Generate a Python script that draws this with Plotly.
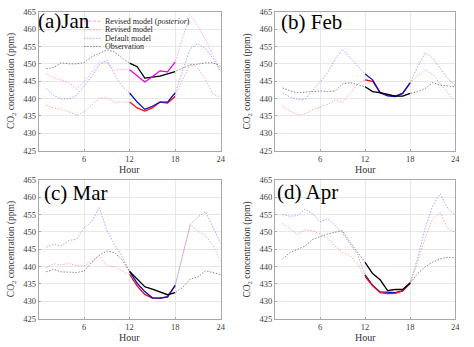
import plotly.graph_objects as go

# ---------------- data ----------------
hours = list(range(1, 25))
panel_labels = ["(a)Jan", "(b) Feb", "(c) Mar", "(d) Apr"]
x_ticks = [6, 12, 18, 24]
y_ticks = [425, 430, 435, 440, 445, 450, 455, 460, 465]

obs_jan = [448.6, 449.0, 450.3, 450.0, 450.0, 450.4, 452.0, 453.0, 454.0, 453.5, 451.7, 450.2,
           449.2, 445.9, 446.1, 446.5, 447.1, 447.8, 448.8, 449.7, 449.9, 450.3, 450.3, 449.3]
post_jan = [447.2, 446.0, 445.3, 444.6, 442.9, 444.8, 447.5, 450.6, 450.3, 448.2, 448.4, 448.3,
            446.6, 444.8, 446.3, 448.0, 447.7, 450.5, 457.5, 464.2, 460.9, 457.0, 452.5, 448.0]
rev_jan = [438.1, 437.3, 436.9, 436.2, 435.2, 436.2, 438.1, 440.2, 440.2, 439.0, 439.0, 439.0,
           437.3, 436.4, 437.3, 439.0, 438.7, 440.6, 445.5, 449.9, 448.8, 445.5, 441.3, 440.4]
def_jan = [442.9, 440.9, 439.9, 439.9, 440.9, 443.6, 446.4, 449.7, 451.1, 446.9, 443.6, 441.6,
           439.0, 436.9, 437.8, 439.0, 439.0, 441.6, 448.3, 454.4, 455.8, 454.4, 451.6, 447.8]

obs_feb = [443.1, 442.2, 441.7, 441.9, 442.0, 442.2, 442.0, 442.2, 444.2, 444.6, 444.0, 443.4,
           442.0, 441.7, 441.3, 440.7, 440.7, 441.5, 442.0, 442.9, 444.6, 443.9, 443.6, 443.4]
def_feb = [441.7, 440.4, 439.8, 439.8, 442.4, 444.7, 447.5, 451.3, 454.2, 451.8, 449.4, 447.1,
           445.4, 441.7, 440.8, 440.6, 441.5, 444.5, 449.2, 453.2, 451.7, 448.8, 445.8, 443.8]
rev_feb = [437.8, 436.4, 435.3, 435.6, 436.8, 437.6, 438.3, 439.6, 438.9, 441.5, 444.2, 445.4,
           445.0, 441.7, 441.0, 440.7, 441.5, 444.5, 446.6, 448.3, 447.0, 444.3, 441.8, 439.1]

obs_mar = [438.5, 439.2, 438.5, 438.3, 438.3, 438.7, 441.2, 443.3, 444.5, 444.0, 442.0, 438.6,
           436.3, 434.2, 433.5, 432.8, 431.9, 432.5, 434.0, 436.4, 437.0, 438.8, 438.2, 437.7]
def_mar = [445.6, 446.4, 446.0, 447.5, 447.9, 451.2, 452.9, 457.0, 450.5, 446.4, 443.0, 438.6,
           435.2, 432.8, 431.0, 430.9, 431.3, 434.6, 443.4, 452.2, 454.3, 455.8, 451.3, 446.7]
rev_mar = [439.7, 440.8, 440.5, 440.9, 440.3, 440.2, 441.6, 443.2, 440.2, 440.0, 438.8, 437.8,
           434.4, 432.0, 430.9, 430.9, 431.3, 434.5, 443.2, 452.0, 450.2, 449.0, 446.0, 441.6]

obs_apr = [442.2, 444.1, 445.0, 445.9, 447.8, 448.7, 449.4, 449.9, 450.3, 447.0, 444.2, 441.2,
           438.0, 436.2, 433.1, 433.4, 433.4, 435.3, 438.0, 439.9, 441.3, 442.2, 442.7, 442.5]
def_apr = [455.0, 454.5, 454.7, 456.6, 455.2, 452.9, 453.8, 451.9, 449.6, 446.4, 443.4, 437.6,
           434.6, 432.7, 432.6, 432.5, 433.0, 435.2, 442.5, 451.0, 457.5, 461.0, 456.8, 454.7]
rev_apr = [452.4, 451.0, 449.2, 450.6, 450.3, 449.4, 448.2, 445.9, 444.1, 443.1, 440.8, 437.1,
           434.5, 432.5, 432.2, 432.3, 433.0, 435.3, 441.3, 448.2, 453.8, 455.6, 451.0, 449.9]

panels = [
    {"obs": obs_jan, "def": def_jan, "rev": rev_jan, "post": post_jan, "order": ["rev", "def", "obs", "post"]},
    {"obs": obs_feb, "def": def_feb, "rev": rev_feb, "post": None, "order": ["rev", "def", "obs"]},
    {"obs": obs_mar, "def": def_mar, "rev": rev_mar, "post": None, "order": ["rev", "def", "obs"]},
    {"obs": obs_apr, "def": def_apr, "rev": rev_apr, "post": None, "order": ["def", "rev", "obs"]},
]
legend_names = ["Revised model (<i>posterior</i>)", "Revised model", "Default model", "Observation"]

# ---------------- styles ----------------
W, H = 474, 347
FONT = "Liberation Serif"
solid_col = {"obs": "#000000", "def": "#1010c8", "rev": "#f01010", "post": "#f000f0"}
dot_col = {"obs": "rgba(60,60,60,0.6)", "def": "rgba(80,80,240,0.5)",
           "rev": "rgba(240,70,70,0.45)", "post": "rgba(250,70,250,0.5)"}
DOT = "1.5px,1.5px"
col_px = [(39, 223), (278, 460)]
row_px = [(7, 150), (180, 323)]

def px_x(p):
    return p / W

def px_y(p):
    return 1 - p / H

fig = go.Figure()
layout = {}
annotations = []
shapes = []

for i, pdat in enumerate(panels):
    r, c = divmod(i, 2)
    n = i + 1
    xa = "x" if n == 1 else f"x{n}"
    ya = "y" if n == 1 else f"y{n}"
    keys = ["rev", "def", "obs"] + (["post"] if pdat["post"] is not None else [])
    # dotted full-day lines
    for k in keys:
        fig.add_trace(go.Scatter(x=hours, y=pdat[k], mode="lines", xaxis=xa, yaxis=ya,
                                 line=dict(color=dot_col[k], width=1, dash=DOT),
                                 showlegend=False, hoverinfo="skip"))
    # solid 12-18 segment
    for k in pdat["order"]:
        xs = hours[11:18]
        ys = pdat[k][11:18]
        fig.add_trace(go.Scatter(x=xs, y=ys, mode="lines", xaxis=xa, yaxis=ya,
                                 line=dict(color=solid_col[k], width=1.3),
                                 showlegend=False, hoverinfo="skip"))
    x0, x1 = col_px[c]
    y0, y1 = row_px[r]
    axis_common = dict(showline=True, mirror=True, linecolor="#a8a8a8", linewidth=1,
                       showgrid=True, gridcolor="#e8e8e8", gridwidth=1, zeroline=False,
                       ticks="inside", ticklen=2, tickcolor="#a8a8a8",
                       tickfont=dict(family=FONT, size=8.5, color="#404040"))
    layout["xaxis" if n == 1 else f"xaxis{n}"] = dict(
        domain=[px_x(x0), px_x(x1)], range=[0, 24], tickvals=x_ticks,
        anchor=ya, **axis_common)
    layout["yaxis" if n == 1 else f"yaxis{n}"] = dict(
        domain=[px_y(y1), px_y(y0)], range=[425, 465], tickvals=y_ticks,
        anchor=xa, **axis_common)
    # panel label
    lab_pos = [(36, 16), (282, 17), (42, 194), (278, 193)][i]
    annotations.append(dict(text=panel_labels[i], xref="paper", yref="paper",
                            x=px_x(lab_pos[0]), y=px_y(lab_pos[1]), xanchor="left", yanchor="middle",
                            showarrow=False, font=dict(family=FONT, size=21, color="#000")))
    # axis titles
    annotations.append(dict(text="Hour", xref="paper", yref="paper",
                            x=px_x((x0 + x1) / 2), y=px_y(y1 + 19), xanchor="center", yanchor="middle",
                            showarrow=False, font=dict(family=FONT, size=10, color="#333")))
    annotations.append(dict(text="CO<sub>2</sub> concentration (ppm)", xref="paper", yref="paper",
                            x=px_x(x0 - 28), y=px_y((y0 + y1) / 2), xanchor="center", yanchor="middle",
                            textangle=-90, showarrow=False,
                            font=dict(family=FONT, size=9.5, color="#333")))

# manual legend in panel (a)
leg_keys = ["post", "rev", "def", "obs"]
leg_dash = {"post": "3px,1.5px", "rev": DOT, "def": DOT, "obs": DOT}
leg_y = [16.7, 25.7, 34.3, 42.7]
for k, name, yy in zip(leg_keys, legend_names, leg_y):
    shapes.append(dict(type="line", xref="paper", yref="paper",
                       x0=px_x(85), x1=px_x(102), y0=px_y(yy), y1=px_y(yy),
                       line=dict(color=dot_col[k], width=1, dash=leg_dash[k])))
    annotations.append(dict(text=name, xref="paper", yref="paper", x=px_x(104), y=px_y(yy),
                            xanchor="left", yanchor="middle", showarrow=False,
                            font=dict(family=FONT, size=8, color="#222")))

fig.update_layout(width=W, height=H, margin=dict(l=0, r=0, t=0, b=0),
                  paper_bgcolor="white", plot_bgcolor="white",
                  annotations=annotations, shapes=shapes, showlegend=False, **layout)

fig.write_html("out.html")
